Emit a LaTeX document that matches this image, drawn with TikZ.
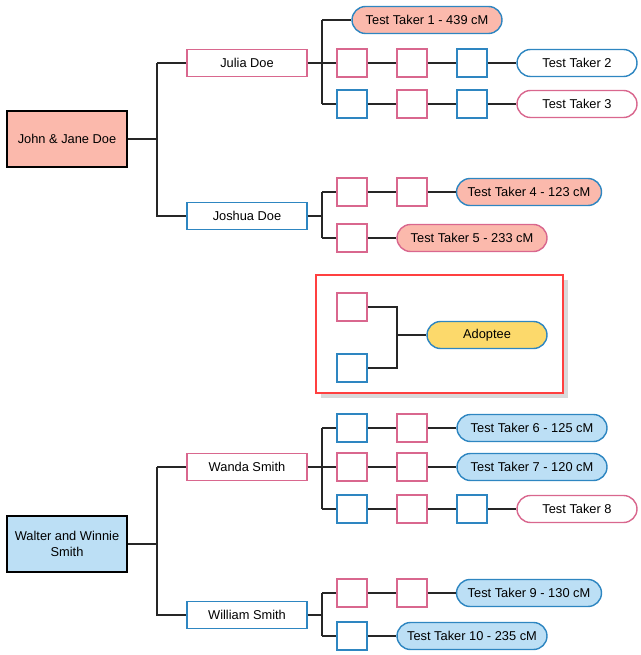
\documentclass[tikz,border=0pt]{standalone}
\usepackage{fontspec}
\setmainfont{Liberation Sans}
\usetikzlibrary{shapes.misc,shadows}
\definecolor{pk}{HTML}{D9678E}
\definecolor{bl}{HTML}{2E86C1}
\definecolor{salmon}{HTML}{FBB9AC}
\definecolor{lblue}{HTML}{BCDFF5}
\definecolor{yel}{HTML}{FCD96B}
\begin{document}
\begin{tikzpicture}[x=0.02cm,y=-0.02cm,font=\fontsize{7.3}{8.8}\selectfont,
  pbox/.style={rectangle,draw=pk,thick,fill=white,minimum width=0.6cm,minimum height=0.56cm,inner sep=0pt},
  bbox/.style={pbox,draw=bl},
  person/.style={rectangle,thick,fill=white,minimum width=2.4cm,minimum height=0.55cm,inner sep=0pt},
  couple/.style={rectangle,draw=black,semithick,minimum width=2.4cm,minimum height=1.12cm,align=center,inner sep=2pt},
  taker/.style={rounded rectangle,thick,fill=white,minimum height=0.54cm,inner sep=0pt},
  link/.style={thick,black!85}]
\useasboundingbox (0,0) rectangle (641,655);
% top family
\node[couple,fill=salmon] (jj) at (67,139) {John \& Jane Doe};
\node[person,draw=pk] (julia) at (247,63) {Julia Doe};
\node[person,draw=bl] (joshua) at (247,216) {Joshua Doe};
\node[taker,draw=bl,fill=salmon,minimum width=3cm] (t1) at (427,20) {Test Taker 1 - 439 cM};
\node[pbox] (a1) at (352,63) {};
\node[pbox] (a2) at (412,63) {};
\node[bbox] (a3) at (472,63) {};
\node[taker,draw=bl,minimum width=2.4cm] (t2) at (577,63) {Test Taker 2};
\node[bbox] (b1) at (352,104) {};
\node[pbox] (b2) at (412,104) {};
\node[bbox] (b3) at (472,104) {};
\node[taker,draw=pk,minimum width=2.4cm] (t3) at (577,104) {Test Taker 3};
\node[pbox] (c1) at (352,192) {};
\node[pbox] (c2) at (412,192) {};
\node[taker,draw=bl,fill=salmon,minimum width=2.9cm] (t4) at (529,192) {Test Taker 4 - 123 cM};
\node[pbox] (d1) at (352,238) {};
\node[taker,draw=pk,fill=salmon,minimum width=3cm] (t5) at (472,238) {Test Taker 5 - 233 cM};
\draw[link] (jj.east) -- (157,139) (157,63) -- (julia.west) (157,63) -- (157,216) -- (joshua.west);
\draw[link] (julia.east) -- (322,63) (322,20) -- (322,104);
\draw[link] (322,20) -- (t1.west);
\draw[link] (322,63) -- (a1) -- (a2) -- (a3) -- (t2);
\draw[link] (322,104) -- (b1) -- (b2) -- (b3) -- (t3);
\draw[link] (joshua.east) -- (322,216) (322,192) -- (322,238);
\draw[link] (322,192) -- (c1) -- (c2) -- (t4);
\draw[link] (322,238) -- (d1) -- (t5);
% adoptee
\node[rectangle,draw=red!75,very thick,fill=white,drop shadow={opacity=0.3},minimum width=4.94cm,minimum height=2.36cm] (frame) at (439.5,334) {};
\node[pbox] (m) at (352,307) {};
\node[bbox] (f) at (352,368) {};
\node[taker,draw=bl,fill=yel,minimum width=2.4cm] (ad) at (487,335) {Adoptee};
\draw[link] (m.east) -- (397,307) -- (397,368) -- (f.east);
\draw[link] (397,335) -- (ad.west);
% bottom family
\node[couple,fill=lblue] (ww) at (67,544) {Walter and Winnie\\Smith};
\node[person,draw=pk] (wanda) at (247,467) {Wanda Smith};
\node[person,draw=bl] (william) at (247,615) {William Smith};
\node[bbox] (e1) at (352,428) {};
\node[pbox] (e2) at (412,428) {};
\node[taker,draw=bl,fill=lblue,minimum width=3cm] (t6) at (532,428) {Test Taker 6 - 125 cM};
\node[pbox] (g1) at (352,467) {};
\node[pbox] (g2) at (412,467) {};
\node[taker,draw=bl,fill=lblue,minimum width=3cm] (t7) at (532,467) {Test Taker 7 - 120 cM};
\node[bbox] (h1) at (352,509) {};
\node[pbox] (h2) at (412,509) {};
\node[bbox] (h3) at (472,509) {};
\node[taker,draw=pk,minimum width=2.4cm] (t8) at (577,509) {Test Taker 8};
\node[pbox] (k1) at (352,593) {};
\node[pbox] (k2) at (412,593) {};
\node[taker,draw=bl,fill=lblue,minimum width=2.9cm] (t9) at (529,593) {Test Taker 9 - 130 cM};
\node[bbox] (l1) at (352,636) {};
\node[taker,draw=bl,fill=lblue,minimum width=3cm] (t10) at (472,636) {Test Taker 10 - 235 cM};
\draw[link] (ww.east) -- (157,544) (157,467) -- (wanda.west) (157,467) -- (157,615) -- (william.west);
\draw[link] (wanda.east) -- (322,467) (322,428) -- (322,509);
\draw[link] (322,428) -- (e1) -- (e2) -- (t6);
\draw[link] (322,467) -- (g1) -- (g2) -- (t7);
\draw[link] (322,509) -- (h1) -- (h2) -- (h3) -- (t8);
\draw[link] (william.east) -- (322,615) (322,593) -- (322,636);
\draw[link] (322,593) -- (k1) -- (k2) -- (t9);
\draw[link] (322,636) -- (l1) -- (t10);
\end{tikzpicture}
\end{document}
